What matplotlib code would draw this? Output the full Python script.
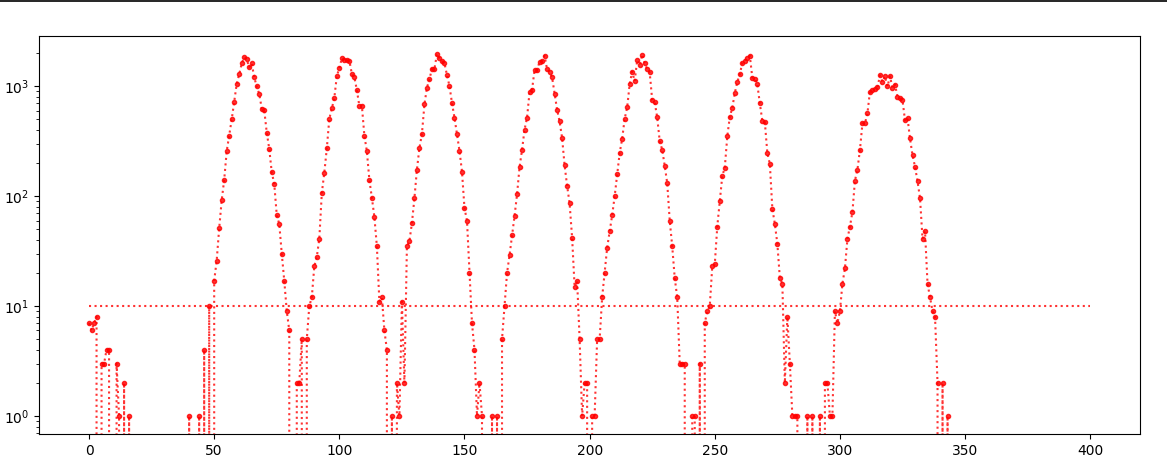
import numpy as np
import matplotlib
matplotlib.use("Agg")
import matplotlib.pyplot as plt
from matplotlib.lines import Line2D

# histogram counts, one per bin (bin index = position in the list)
counts = [
  7, 6, 7, 8, 0, 3, 3, 4, 4, 0,
  0, 3, 1, 0, 2, 0, 1, 0, 0, 0,
  0, 0, 0, 0, 0, 0, 0, 0, 0, 0,
  0, 0, 0, 0, 0, 0, 0, 0, 0, 0,
  1, 0, 0, 0, 1, 0, 4, 0, 10, 0,
  17, 26, 51, 92, 141, 257, 357, 500, 725, 1055,
  1290, 1620, 1840, 1760, 1490, 1620, 1210, 1000, 855, 628,
  608, 380, 270, 165, 130, 67, 56, 30, 17, 9,
  6, 0, 0, 2, 2, 5, 0, 5, 10, 12,
  23, 28, 41, 107, 164, 273, 508, 630, 783, 1250,
  1460, 1810, 1730, 1745, 1720, 1300, 1220, 925, 665, 670,
  357, 257, 141, 97, 65, 35, 11, 12, 6, 4,
  0, 1, 0, 2, 1, 11, 2, 35, 39, 57,
  96, 175, 275, 370, 685, 975, 1160, 1450, 1450, 1970,
  1810, 1700, 1630, 1270, 1010, 708, 520, 365, 260, 168,
  78, 60, 20, 7, 4, 1, 2, 1, 0, 0,
  0, 1, 0, 1, 0, 5, 10, 20, 29, 44,
  66, 104, 184, 265, 405, 520, 890, 935, 1410, 1410,
  1680, 1700, 1905, 1430, 1355, 1210, 860, 615, 480, 340,
  191, 125, 86, 42, 15, 17, 5, 1, 2, 2,
  0, 1, 1, 5, 5, 12, 20, 34, 48, 67,
  100, 158, 247, 334, 508, 645, 1050, 1365, 1120, 1730,
  1560, 1950, 1630, 1430, 1340, 750, 718, 522, 318, 265,
  189, 132, 60, 35, 18, 12, 3, 3, 3, 0,
  0, 1, 1, 0, 3, 0, 7, 9, 10, 23,
  24, 53, 90, 153, 182, 351, 528, 640, 868, 1098,
  1285, 1650, 1720, 1810, 1905, 1200, 1180, 1048, 700, 487,
  475, 247, 197, 77, 56, 37, 18, 16, 2, 8,
  3, 1, 1, 1, 0, 0, 0, 1, 0, 1,
  0, 0, 1, 0, 2, 2, 1, 1, 9, 7,
  9, 16, 22, 41, 53, 72, 139, 175, 265, 460,
  460, 572, 898, 925, 950, 980, 1260, 1100, 1235, 1000,
  1235, 970, 1040, 808, 785, 750, 492, 518, 336, 236,
  186, 137, 96, 41, 48, 16, 12, 9, 8, 2,
  0, 2, 0, 1, 0,
]
bins = np.arange(len(counts))

# threshold line
threshold = 10
threshold_x = [0, 400]

fig = plt.figure(figsize=(11.67, 4.62), dpi=100)
ax = fig.add_axes([0.0334, 0.0606, 0.9437, 0.8615])

ax.plot(bins, counts, 'r.:', alpha=0.8)
ax.plot(threshold_x, [threshold, threshold], 'r:', alpha=0.8)
ax.set_yscale('log')

# thin dark rule across the very top of the picture
fig.add_artist(Line2D([0, 1], [0.9985, 0.9985], color='black', lw=1.2,
                      transform=fig.transFigure))

fig.savefig('out.png', dpi=100)
